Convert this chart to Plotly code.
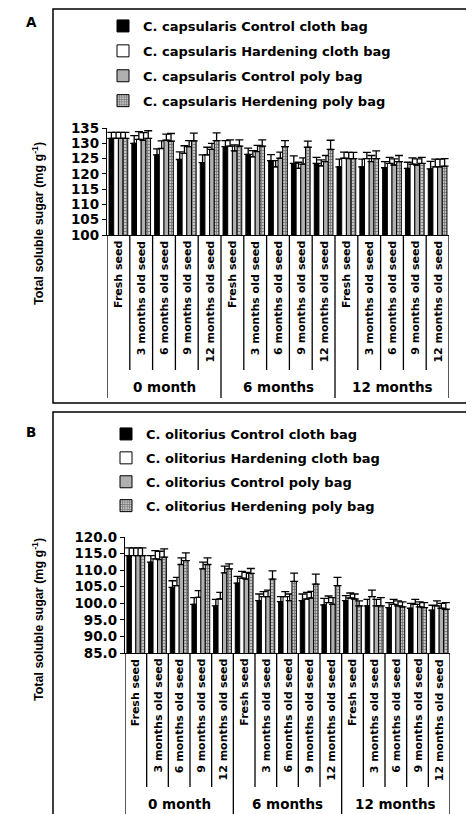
import plotly.graph_objects as go

# the page puts the figure 8px in from the top-left corner of a 474x814 window
PAGE_OFF = 8
W, H = 474 - PAGE_OFF, 814 - PAGE_OFF

seed_ages = ["Fresh seed", "3 months old seed", "6 months old seed",
             "9 months old seed", "12 months old seed"]
storage_periods = ["0 month", "6 months", "12 months"]

# panel A - C. capsularis
caps_names = ["C. capsularis Control cloth bag", "C. capsularis Hardening cloth bag",
              "C. capsularis Control poly bag", "C. capsularis Herdening poly bag"]
caps_ctrl_cloth = [131.6, 130.0, 126.2, 124.7, 123.7, 128.9, 126.4, 124.3, 123.4, 123.4,
                   122.3, 122.3, 122.0, 121.8, 121.6]
caps_hard_cloth = [131.6, 131.3, 128.3, 126.7, 126.2, 129.1, 125.6, 122.3, 121.8, 122.6,
                   125.1, 125.0, 123.4, 123.2, 122.3]
caps_ctrl_poly = [131.6, 131.0, 131.0, 128.9, 128.0, 127.5, 127.3, 125.1, 123.2, 124.0,
                  125.0, 124.0, 122.9, 122.9, 122.3]
caps_hard_poly = [131.6, 131.6, 130.7, 130.8, 130.9, 129.1, 129.1, 128.9, 128.7, 128.0,
                  125.0, 125.0, 124.0, 123.4, 122.5]
caps_err_ctrl_cloth = [2.0, 2.5, 2.0, 2.5, 2.5, 2.0, 2.0, 2.0, 2.5, 2.0, 2.5, 2.5, 2.0, 2.0, 2.5]
caps_err_hard_cloth = [2.0, 2.5, 2.5, 2.5, 2.5, 2.0, 2.0, 2.0, 2.0, 2.0, 2.0, 2.0, 2.0, 2.0, 2.5]
caps_err_ctrl_poly = [2.0, 2.5, 2.0, 2.0, 2.0, 2.0, 2.0, 2.0, 2.0, 2.0, 2.0, 2.0, 2.0, 2.0, 2.5]
caps_err_hard_poly = [2.0, 2.5, 2.5, 2.5, 2.5, 2.0, 2.0, 2.0, 2.0, 3.0, 2.0, 2.5, 2.0, 2.0, 2.5]

# panel B - C. olitorius
oli_names = ["C. olitorius Control cloth bag", "C. olitorius Hardening cloth bag",
             "C. olitorius Control poly bag", "C. olitorius Herdening poly bag"]
oli_ctrl_cloth = [114.4, 112.4, 104.8, 99.7, 99.2, 106.1, 100.8, 100.5, 100.8, 99.5,
                  100.8, 99.2, 98.7, 98.5, 97.9]
oli_hard_cloth = [114.4, 113.4, 105.3, 101.8, 101.3, 107.6, 102.0, 102.0, 101.3, 100.2,
                  101.6, 102.0, 99.7, 99.7, 99.2]
oli_ctrl_poly = [114.4, 113.2, 111.7, 110.4, 109.2, 107.3, 102.0, 100.8, 101.6, 99.7,
                 101.3, 99.2, 99.2, 98.9, 98.5]
oli_hard_poly = [114.4, 113.9, 112.9, 111.7, 110.4, 109.0, 107.3, 106.6, 105.8, 105.3,
                 99.2, 99.2, 98.9, 98.7, 98.2]
oli_err_ctrl_cloth = [2.3, 2.0, 2.0, 2.0, 2.0, 2.0, 2.0, 1.5, 2.0, 2.0, 1.5, 2.0, 1.5, 1.5, 1.5]
oli_err_hard_cloth = [2.3, 2.5, 2.5, 2.0, 2.0, 2.0, 1.5, 1.5, 2.0, 2.0, 1.5, 2.0, 1.5, 1.5, 1.5]
oli_err_ctrl_poly = [2.3, 2.5, 2.0, 2.0, 2.0, 2.0, 2.0, 2.0, 2.0, 2.0, 1.5, 2.0, 1.5, 1.5, 1.5]
oli_err_hard_poly = [2.3, 2.5, 2.3, 2.0, 1.5, 1.5, 2.5, 2.5, 3.0, 2.5, 1.5, 2.5, 1.5, 1.5, 2.0]

FONT = "DejaVu Sans"
BLACK = "black"


# pixel positions below are measured on the 474x814 picture
def px_x(p):
    return (p - PAGE_OFF) / W


def px_y(p):
    return 1 - (p - PAGE_OFF) / H


bar_styles = [
    dict(color="black"),
    dict(color="white"),
    dict(color="#b0b0b0"),
    dict(color="#c4c4c4", pattern=dict(shape="+", fgcolor="#333333", size=3, solidity=0.5)),
]

labels = [seed_ages[i % 5] for i in range(15)]
xs = list(range(15))

fig = go.Figure()


def add_panel(series, errors, names, xa, ya, legend):
    for k, (vals, err, name) in enumerate(zip(series, errors, names)):
        fig.add_trace(go.Bar(
            x=xs, y=vals, name=name, xaxis=xa, yaxis=ya, legend=legend,
            legendgroup=name,
            marker=dict(line=dict(color=BLACK, width=1), **bar_styles[k]),
            error_y=dict(type="data", symmetric=False, array=err,
                         arrayminus=[0] * len(err), color=BLACK,
                         thickness=1.3, width=4),
            hovertext=labels,
        ))


add_panel([caps_ctrl_cloth, caps_hard_cloth, caps_ctrl_poly, caps_hard_poly],
          [caps_err_ctrl_cloth, caps_err_hard_cloth, caps_err_ctrl_poly, caps_err_hard_poly],
          caps_names, "x", "y", "legend")
add_panel([oli_ctrl_cloth, oli_hard_cloth, oli_ctrl_poly, oli_hard_poly],
          [oli_err_ctrl_cloth, oli_err_hard_cloth, oli_err_ctrl_poly, oli_err_hard_poly],
          oli_names, "x2", "y2", "legend2")

# panel geometry in picture pixels
panels = [
    dict(xa="x", ya="y", left=107, right=449, top=128, bottom=235, inner=370, outer=398,
         rng=[100, 135], fmt="d", group_y=387, box=(53, 471, 9, 403), letter="A", letter_y=22,
         title_y=224),
    dict(xa="x2", ya="y2", left=125, right=450, top=537, bottom=653, inner=787, outer=816,
         rng=[85, 120], fmt=".1f", group_y=804, box=(53, 471, 412, 820), letter="B",
         letter_y=432, title_y=620),
]

shapes = []
annotations = []
layout_axes = {}
for n, p in enumerate(panels):
    sfx = "" if n == 0 else str(n + 1)
    layout_axes["xaxis" + sfx] = dict(
        domain=[px_x(p["left"]), px_x(p["right"])], range=[-0.5, 14.5],
        anchor=p["ya"], showticklabels=False, showgrid=False, zeroline=False,
        showline=True, linecolor=BLACK, linewidth=1.3, ticks="", fixedrange=True,
        automargin=False,
    )
    layout_axes["yaxis" + sfx] = dict(
        domain=[px_y(p["bottom"]), px_y(p["top"])], range=p["rng"], dtick=5,
        anchor=p["xa"], showgrid=False, zeroline=False, showline=True,
        linecolor=BLACK, linewidth=1.3, ticks="outside", ticklen=4, tickwidth=1.2,
        tickcolor=BLACK, tickformat=p["fmt"], automargin=False,
        tickfont=dict(family=FONT, size=13.5, color=BLACK, weight="bold"),
    )
    # dividers between category labels
    for b in range(16):
        xb = b - 0.5
        y_end = p["outer"] if b % 5 == 0 else p["inner"]
        shapes.append(dict(type="line", xref=p["xa"], yref="paper", x0=xb, x1=xb,
                           y0=px_y(p["bottom"]), y1=px_y(y_end),
                           line=dict(color=BLACK, width=1.3)))
    # panel border
    x0, x1, y0, y1 = p["box"]
    shapes.append(dict(type="rect", xref="paper", yref="paper",
                       x0=px_x(x0), x1=px_x(x1), y0=px_y(y1), y1=px_y(y0),
                       line=dict(color=BLACK, width=1.5)))
    for i, lab in enumerate(labels):
        annotations.append(dict(
            text=lab, x=i, xref=p["xa"], y=px_y(p["bottom"] + 4), yref="paper",
            textangle=-90, yanchor="top", xanchor="center", showarrow=False,
            font=dict(family=FONT, size=11, color=BLACK, weight="bold"),
        ))
    for g, per in enumerate(storage_periods):
        annotations.append(dict(
            text=per, x=g * 5 + 2, xref=p["xa"], y=px_y(p["group_y"]), yref="paper",
            yanchor="middle", xanchor="center", showarrow=False,
            font=dict(family=FONT, size=13.5, color=BLACK, weight="bold"),
        ))
    annotations.append(dict(
        text=p["letter"], x=px_x(31), y=px_y(p["letter_y"]), xref="paper", yref="paper",
        showarrow=False, xanchor="center", yanchor="middle",
        font=dict(family=FONT, size=13.5, color=BLACK, weight="bold"),
    ))
    annotations.append(dict(
        text="Total soluble sugar (mg g<sup>-1</sup>)", x=px_x(38), y=px_y(p["title_y"]),
        xref="paper", yref="paper", showarrow=False, textangle=-90,
        xanchor="center", yanchor="middle",
        font=dict(family="Liberation Sans", size=12.5, color=BLACK, weight="bold"),
    ))

legend_font = dict(family=FONT, size=13, color=BLACK, weight="bold")

fig.update_layout(
    width=W, height=H,
    margin=dict(l=0, r=0, t=0, b=0),
    paper_bgcolor="white", plot_bgcolor="white",
    barmode="group", bargap=0.18, bargroupgap=0,
    showlegend=True,
    legend=dict(x=px_x(103), y=px_y(11), xanchor="left", yanchor="top",
                font=legend_font, tracegroupgap=5, bgcolor="rgba(0,0,0,0)"),
    legend2=dict(x=px_x(106), y=px_y(419), xanchor="left", yanchor="top",
                 font=legend_font, tracegroupgap=4, bgcolor="rgba(0,0,0,0)"),
    shapes=shapes,
    annotations=annotations,
    **layout_axes,
)

fig.write_html("out.html")
